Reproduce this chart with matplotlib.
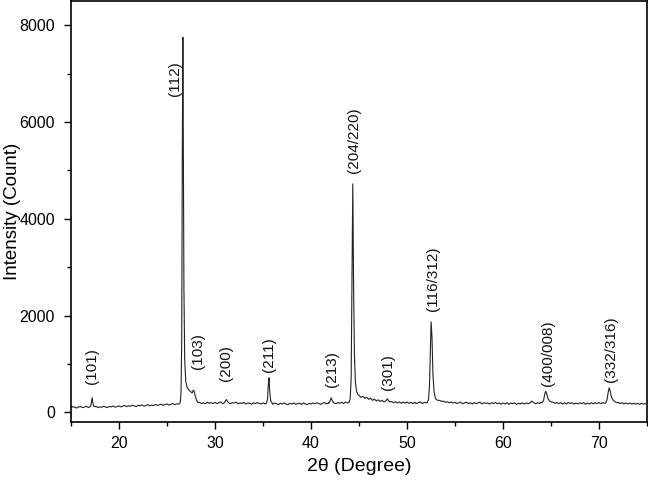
import numpy as np
import matplotlib
matplotlib.use('Agg')
import matplotlib.pyplot as plt
from matplotlib.ticker import MultipleLocator

plt.rcParams['font.family'] = ['Liberation Sans', 'DejaVu Sans']

# background counts, read every 0.2 deg from 15.0 to 75.0
bg_start = 15.0
bg_step = 0.2
bg_counts = [
    # 15.0 - 19.8
    95, 118, 102, 88, 112, 121, 97, 108, 125, 99, 115, 118, 112, 128, 96, 112, 104, 127, 109, 98, 124, 111, 131, 106, 119,
    # 20.0 - 24.8
    133, 112, 128, 141, 117, 136, 124, 148, 129, 119, 145, 133, 152, 127, 141, 158, 134, 149, 139, 162, 143, 155, 168, 147, 159,
    # 25.0 - 29.8
    172, 151, 166, 181, 158, 176, 169, 180, 180, 180, 180, 180, 180, 180, 180, 180, 185, 206, 181, 199, 178, 210, 186, 197, 182,
    # 30.0 - 34.8
    205, 181, 199, 214, 178, 196, 207, 185, 176, 202, 189, 211, 174, 195, 183, 204, 171, 193, 188, 168, 197, 179, 201, 184, 172,
    # 35.0 - 39.8
    196, 174, 181, 185, 180, 165, 192, 178, 160, 188, 171, 195, 169, 158, 186, 172, 193, 166, 177, 189, 163, 195, 174, 160, 187,
    # 40.0 - 44.8
    170, 193, 176, 199, 182, 165, 189, 201, 174, 196, 190, 190, 192, 178, 203, 185, 208, 181, 212, 195, 200, 200, 200, 200, 200,
    # 45.0 - 49.8
    352, 309, 331, 288, 312, 269, 291, 248, 272, 236, 258, 225, 246, 214, 220, 220, 215, 224, 198, 219, 191, 214, 188, 211, 193,
    # 50.0 - 54.8
    212, 186, 205, 181, 207, 179, 203, 211, 184, 206, 196, 200, 200, 200, 200, 272, 248, 246, 225, 231, 209, 218, 197, 214, 192,
    # 55.0 - 59.8
    205, 182, 199, 211, 176, 196, 207, 180, 198, 172, 201, 179, 193, 210, 175, 197, 183, 194, 170, 198, 181, 203, 176, 192, 168,
    # 60.0 - 64.8
    193, 171, 199, 166, 191, 178, 196, 163, 188, 175, 197, 170, 194, 181, 200, 200, 204, 177, 198, 183, 209, 200, 200, 200, 200,
    # 65.0 - 69.8
    205, 211, 184, 203, 179, 199, 172, 196, 176, 201, 183, 198, 169, 192, 173, 197, 178, 201, 168, 191, 172, 199, 176, 197, 181,
    # 70.0 - 75.0
    203, 178, 199, 187, 200, 200, 200, 200, 200, 200, 207, 181, 198, 174, 195, 171, 193, 168, 189, 166, 187, 164, 185, 170, 176,
    173,
]

# peak profiles (2theta, counts)
peak_theta = [
    [16.95, 17.05, 17.12, 17.2, 17.28, 17.36, 17.5],
    [26.3, 26.38, 26.46, 26.53, 26.59, 26.65, 26.7, 26.76, 26.84, 26.95, 27.1, 27.3, 27.5, 27.62, 27.72, 27.82, 27.95, 28.1, 28.25],
    [30.95, 31.08, 31.2, 31.32, 31.45],
    [35.35, 35.47, 35.55, 35.62, 35.7, 35.8, 35.95],
    [41.85, 41.98, 42.1, 42.22, 42.36],
    [43.95, 44.08, 44.18, 44.26, 44.35, 44.43, 44.52, 44.62, 44.75, 44.9],
    [47.7, 47.85, 47.95, 48.05, 48.22],
    [52.1, 52.24, 52.34, 52.43, 52.51, 52.6, 52.7, 52.82, 52.95],
    [62.75, 62.92, 63.02, 63.14, 63.3],
    [64.1, 64.24, 64.34, 64.44, 64.54, 64.68, 64.85, 65.05],
    [70.7, 70.84, 70.96, 71.06, 71.16, 71.3, 71.5, 71.72, 71.92],
]
peak_counts = [
    [112, 130, 200, 300, 190, 130, 114],
    [178, 205, 420, 1500, 5200, 7750, 5600, 2600, 1100, 640, 510, 455, 420, 400, 456, 440, 330, 240, 198],
    [192, 232, 263, 218, 194],
    [183, 270, 560, 713, 430, 240, 190],
    [186, 236, 298, 238, 194],
    [198, 280, 700, 2500, 4720, 2700, 1200, 620, 430, 360],
    [222, 252, 278, 246, 214],
    [198, 270, 560, 1300, 1870, 1550, 780, 420, 300],
    [184, 218, 232, 205, 190],
    [198, 262, 370, 435, 392, 285, 232, 210],
    [194, 270, 420, 506, 440, 310, 245, 212, 197],
]

hkl_labels = ['(101)', '(112)', '(103)', '(200)', '(211)', '(213)', '(204/220)',
              '(301)', '(116/312)', '(400/008)', '(332/316)']
label_x = [17.2, 25.85, 28.2, 31.15, 35.6, 42.15, 44.5, 48.0, 52.75, 64.7, 71.2]
label_y = [575, 6530, 900, 643, 830, 527, 4950, 470, 2090, 554, 622]

# merge background with the peak profiles
bg_theta = bg_start + bg_step * np.arange(len(bg_counts))
bg_counts = np.array(bg_counts, dtype=float)
keep = np.ones(len(bg_theta), dtype=bool)
for t in peak_theta:
    keep &= ~((bg_theta >= min(t) - 0.01) & (bg_theta <= max(t) + 0.01))
theta = np.concatenate([bg_theta[keep]] + [np.array(t) for t in peak_theta])
counts = np.concatenate([bg_counts[keep]] + [np.array(c, dtype=float) for c in peak_counts])
order = np.argsort(theta)
theta, counts = theta[order], counts[order]

fig = plt.figure(figsize=(6.48, 4.82), dpi=100)
ax = fig.add_axes([0.1096, 0.1245, 0.8889, 0.8735])
ax.plot(theta, counts, color='#222222', lw=0.8)

for lab, x, y in zip(hkl_labels, label_x, label_y):
    ax.text(x, y, lab, rotation=90, ha='center', va='bottom', fontsize=11, color='#111111')

ax.set_xlim(15, 75)
ax.set_ylim(-200, 8500)
ax.xaxis.set_major_locator(MultipleLocator(10))
ax.xaxis.set_minor_locator(MultipleLocator(5))
ax.yaxis.set_major_locator(MultipleLocator(2000))
ax.yaxis.set_minor_locator(MultipleLocator(1000))
ax.tick_params(which='major', direction='out', length=5, width=1, labelsize=11.5)
ax.tick_params(axis='y', which='major', pad=6.5)
ax.tick_params(axis='x', which='major', pad=5)
ax.tick_params(which='minor', direction='out', length=3, width=1)
for s in ax.spines.values():
    s.set_linewidth(1.2)

ax.set_xlabel('2θ (Degree)', fontsize=14)
ax.set_ylabel('Intensity (Count)', fontsize=13.5)
ax.xaxis.set_label_coords(0.5, -0.085)
ax.yaxis.set_label_coords(-0.087, 0.5)

fig.savefig('out.png', dpi=100)
